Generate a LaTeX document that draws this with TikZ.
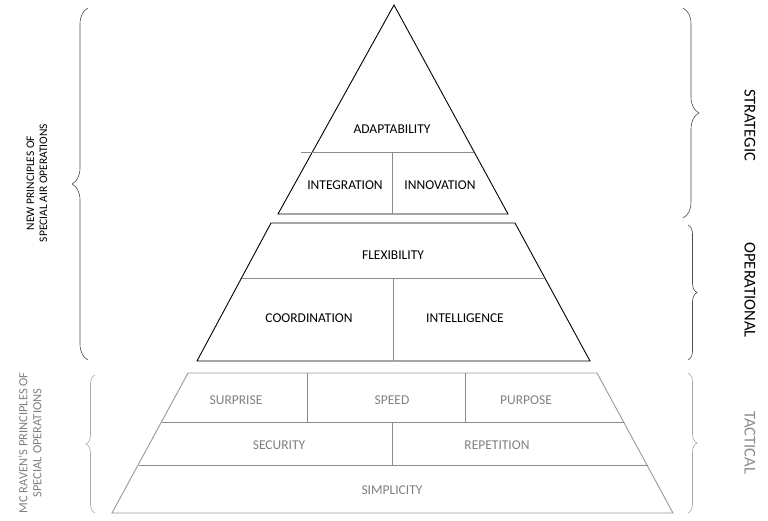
\documentclass[tikz,border=0pt]{standalone}
\usepackage{fontspec}
\setmainfont{Carlito}
\usetikzlibrary{decorations.pathreplacing}
\begin{document}
\begin{tikzpicture}[x=1pt,y=-1pt,
  blk/.style={draw=black,line width=0.9pt},
  thin/.style={draw=black!45,line width=0.6pt},
  gblk/.style={draw=black!40,line width=0.9pt},
  lbl/.style={font=\fontsize{13.5}{15}\selectfont,text=black},
  glbl/.style={font=\fontsize{13.5}{15}\selectfont,text=black!50},
  side/.style={font=\fontsize{16.5}{19}\selectfont},
  br/.style={decorate,decoration={brace,amplitude=9pt},line width=0.6pt},
  bbr/.style={decorate,decoration={brace,amplitude=16pt},line width=0.6pt}]
\useasboundingbox (0,0) rectangle (768,521);
% top triangle
\draw[blk] (394,5) -- (508,214) -- (278,214) -- cycle;
\draw[thin] (301,152) -- (474,152);
\draw[thin] (392,152) -- (392,214);
\node[lbl] (ada) at (392,129) {ADAPTABILITY};
\node[lbl] (int) at (345,185) {INTEGRATION};
\node[lbl] (inn) at (440,185) {INNOVATION};
% middle
\draw[blk] (271,223) -- (515,223) -- (590,361) -- (197,361) -- cycle;
\draw[thin] (242,278) -- (545,278);
\draw[thin] (393,278) -- (393,361);
\node[lbl] (fle) at (393,255) {FLEXIBILITY};
\node[lbl] (coo) at (309,318) {COORDINATION};
\node[lbl] (inl) at (465,318) {INTELLIGENCE};
% bottom
\draw[gblk] (188,373) -- (597,373) -- (673,513) -- (112,513) -- cycle;
\draw[thin] (162,422) -- (624,422);
\draw[thin] (139,465) -- (648,465);
\draw[thin] (307,373) -- (307,422);
\draw[thin] (465,373) -- (465,422);
\draw[thin] (392,422) -- (392,465);
\node[glbl] (sur) at (236,400) {SURPRISE};
\node[glbl] (spe) at (392,400) {SPEED};
\node[glbl] (pur) at (526,400) {PURPOSE};
\node[glbl] (sec) at (279,445) {SECURITY};
\node[glbl] (rep) at (497,445) {REPETITION};
\node[glbl] (sim) at (392,490) {SIMPLICITY};
% braces
\coordinate (lb1) at (88,360); \coordinate (lt1) at (88,8);
\draw[bbr,draw=black!70] (lb1) -- (lt1);
\coordinate (lb2) at (95,513); \coordinate (lt2) at (95,375);
\draw[br,draw=black!35] (lb2) -- (lt2);
\coordinate (rt1) at (683,8); \coordinate (rb1) at (683,218);
\draw[bbr,draw=black!70] (rt1) -- (rb1);
\coordinate (rt2) at (688,225); \coordinate (rb2) at (688,360);
\draw[br,draw=black!70] (rt2) -- (rb2);
\coordinate (rt3) at (688,373); \coordinate (rb3) at (688,513);
\draw[br,draw=black!35] (rt3) -- (rb3);
\node[lbl,rotate=90,align=center,font=\fontsize{11.5}{13}\selectfont] (np) at (37,183) {NEW PRINCIPLES OF\\SPECIAL AIR OPERATIONS};
\node[glbl,rotate=90,align=center,font=\fontsize{12.5}{14}\selectfont] (mc) at (30,443) {MC RAVEN'S PRINCIPLES OF\\SPECIAL OPERATIONS};
\node[side,rotate=-90] (st) at (750,125) {STRATEGIC};
\node[side,rotate=-90] (op) at (750,290) {OPERATIONAL};
\node[side,rotate=-90,text=black!45] (ta) at (750,443) {TACTICAL};
\end{tikzpicture}
\end{document}
